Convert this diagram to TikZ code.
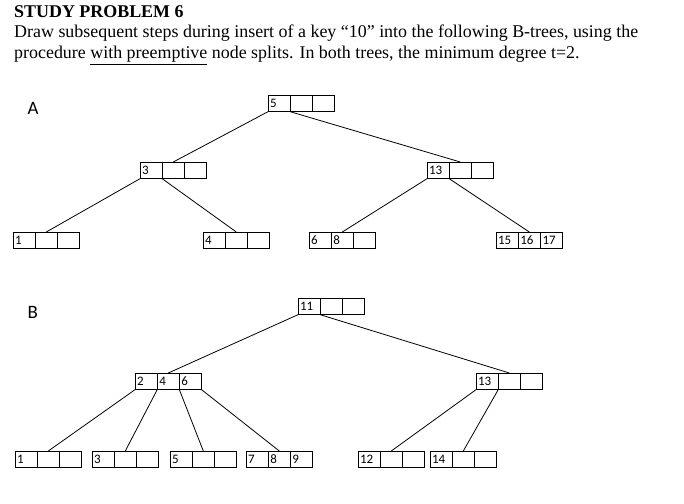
\documentclass[tikz,border=0pt]{standalone}
\usepackage{fontspec}
\setmainfont{Liberation Serif}
\newfontfamily\cellfont{Carlito}
\newfontfamily\lblfont{Carlito}
\begin{document}
\begin{tikzpicture}[x=1bp,y=-1bp,
  cell/.style={draw,line width=0.7pt,minimum width=21.5bp,minimum height=16bp,inner sep=0pt,font=\cellfont\fontsize{13}{13}\selectfont,anchor=north west,text width=18bp,align=left},
  edge/.style={line width=0.8pt},
  lbl/.style={font=\lblfont\fontsize{19}{19}\selectfont,anchor=west}]
\useasboundingbox (0,0) rectangle (684,504);
\newcommand\bnode[6]{%
  \node[cell] (#11) at (#2,#3) {#4};
  \node[cell] (#12) at (#11.north east) {#5};
  \node[cell] (#13) at (#12.north east) {#6};}
\node[anchor=north west,inner sep=0pt,align=left,font=\fontsize{18}{21}\selectfont] (title) at (14,5)
 {\textbf{STUDY PROBLEM 6}\\Draw subsequent steps during insert of a key “10” into the following B-trees, using the\\procedure \underline{with preemptive} node splits. In both trees, the minimum degree t=2.};
\node[lbl] (la) at (24,108) {A};
\node[lbl] (lb) at (24,312) {B};
% Tree A
\bnode{ar}{268}{95}{5}{}{}
\bnode{aa}{140}{162}{3}{}{}
\bnode{ab}{427}{162}{13}{}{}
\bnode{al}{13}{232}{1}{}{}
\bnode{am}{203}{232}{4}{}{}
\bnode{an}{309}{232}{6}{8}{}
\bnode{ao}{496}{232}{15}{16}{17}
\draw[edge] (ar1.south west) -- (aa2.north);
\draw[edge] (ar1.south east) -- (ab2.north);
\draw[edge] (aa1.south west) -- (al2.north);
\draw[edge] (aa1.south east) -- (am2.north);
\draw[edge] (ab1.south west) -- (an2.north);
\draw[edge] (ab1.south east) -- (ao2.north);
% Tree B
\bnode{br}{298}{298}{11}{}{}
\bnode{ba}{135}{373}{2}{4}{6}
\bnode{bb}{476}{373}{13}{}{}
\bnode{bl}{15}{451}{1}{}{}
\bnode{bm}{92}{451}{3}{}{}
\bnode{bn}{170}{451}{5}{}{}
\bnode{bo}{246}{451}{7}{8}{9}
\bnode{bp}{358}{451}{12}{}{}
\bnode{bq}{430}{451}{14}{}{}
\draw[edge] (br1.south west) -- (ba2.north);
\draw[edge] (br1.south east) -- (bb2.north);
\draw[edge] (ba1.south west) -- (bl2.north);
\draw[edge] (ba1.south east) -- (bm2.north);
\draw[edge] (ba2.south east) -- (bn2.north);
\draw[edge] (ba3.south east) -- (bo2.north);
\draw[edge] (bb1.south west) -- (bp2.north);
\draw[edge] (bb1.south east) -- (bq2.north);
\end{tikzpicture}
\end{document}
